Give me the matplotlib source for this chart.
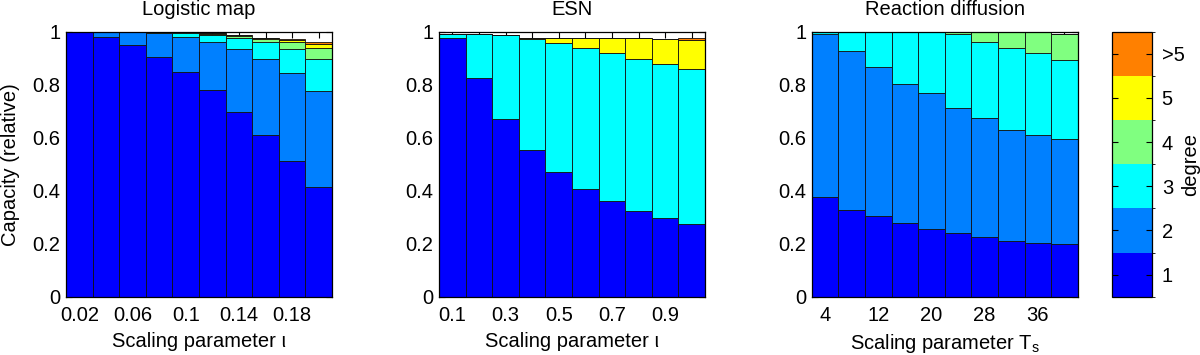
import matplotlib
matplotlib.use('Agg')
import matplotlib as mpl
import matplotlib.pyplot as plt
from matplotlib.colors import ListedColormap, BoundaryNorm
import numpy as np

plt.rcParams['font.family'] = ['Liberation Sans', 'DejaVu Sans']
plt.rcParams['font.size'] = 14.5

# ---------------- data ----------------
degree_labels = ['1', '2', '3', '4', '5', '>5']
degree_colors = ['#0000FF', '#0080FF', '#00FFFF', '#80FF80', '#FFFF00', '#FF8000']

# Logistic map
logistic_x = [0.02, 0.04, 0.06, 0.08, 0.10, 0.12, 0.14, 0.16, 0.18, 0.20]
logistic_ticklabels = ['0.02', '', '0.06', '', '0.1', '', '0.14', '', '0.18', '']
logistic_deg1 = [0.998, 0.979, 0.950, 0.904, 0.848, 0.780, 0.698, 0.609, 0.512, 0.413]
logistic_deg2 = [0.002, 0.020, 0.047, 0.090, 0.133, 0.183, 0.237, 0.287, 0.331, 0.362]
logistic_deg3 = [0.000, 0.000, 0.000, 0.001, 0.013, 0.025, 0.042, 0.064, 0.092, 0.122]
logistic_deg4 = [0.000, 0.000, 0.001, 0.002, 0.003, 0.004, 0.007, 0.012, 0.025, 0.043]
logistic_deg5 = [0.000, 0.001, 0.000, 0.001, 0.001, 0.002, 0.003, 0.004, 0.008, 0.013]
logistic_deg6 = [0.000, 0.000, 0.001, 0.000, 0.000, 0.001, 0.001, 0.002, 0.004, 0.009]

# ESN
esn_x = [0.1, 0.2, 0.3, 0.4, 0.5, 0.6, 0.7, 0.8, 0.9, 1.0]
esn_ticklabels = ['0.1', '', '0.3', '', '0.5', '', '0.7', '', '0.9', '']
esn_deg1 = [0.977, 0.826, 0.672, 0.555, 0.472, 0.406, 0.361, 0.325, 0.297, 0.273]
esn_deg2 = [0.000, 0.000, 0.000, 0.000, 0.000, 0.000, 0.000, 0.000, 0.000, 0.000]
esn_deg3 = [0.013, 0.165, 0.314, 0.416, 0.484, 0.531, 0.557, 0.573, 0.580, 0.586]
esn_deg4 = [0.000, 0.000, 0.000, 0.000, 0.000, 0.000, 0.000, 0.000, 0.000, 0.000]
esn_deg5 = [0.000, 0.000, 0.000, 0.004, 0.019, 0.038, 0.057, 0.077, 0.094, 0.110]
esn_deg6 = [0.000, 0.000, 0.000, 0.000, 0.000, 0.000, 0.000, 0.000, 0.002, 0.006]

# Reaction diffusion
rd_x = [4, 8, 12, 16, 20, 24, 28, 32, 36, 40]
rd_ticklabels = ['4', '', '12', '', '20', '', '28', '', '36', '']
rd_deg1 = [0.375, 0.327, 0.305, 0.278, 0.257, 0.242, 0.225, 0.211, 0.203, 0.199]
rd_deg2 = [0.615, 0.600, 0.562, 0.523, 0.512, 0.471, 0.448, 0.417, 0.407, 0.396]
rd_deg3 = [0.009, 0.071, 0.131, 0.197, 0.229, 0.278, 0.289, 0.309, 0.311, 0.298]
rd_deg4 = [0.000, 0.000, 0.000, 0.000, 0.000, 0.007, 0.036, 0.061, 0.077, 0.097]
rd_deg5 = [0.000, 0.000, 0.000, 0.000, 0.000, 0.000, 0.000, 0.000, 0.000, 0.000]
rd_deg6 = [0.000, 0.000, 0.000, 0.000, 0.000, 0.000, 0.000, 0.000, 0.000, 0.000]

y_ticks = [0, 0.2, 0.4, 0.6, 0.8, 1.0]
y_ticklabels = ['0', '0.2', '0.4', '0.6', '0.8', '1']

panels = [
    dict(title='Logistic map', x=logistic_x, ticklabels=logistic_ticklabels,
         segs=[logistic_deg1, logistic_deg2, logistic_deg3, logistic_deg4, logistic_deg5, logistic_deg6],
         xlabel='Scaling parameter \u03b9', left=66),
    dict(title='ESN', x=esn_x, ticklabels=esn_ticklabels,
         segs=[esn_deg1, esn_deg2, esn_deg3, esn_deg4, esn_deg5, esn_deg6],
         xlabel='Scaling parameter \u03b9', left=439),
    dict(title='Reaction diffusion', x=rd_x, ticklabels=rd_ticklabels,
         segs=[rd_deg1, rd_deg2, rd_deg3, rd_deg4, rd_deg5, rd_deg6],
         xlabel=r'Scaling parameter $\mathregular{T_s}$', left=811.7),
]

W, H = 1200, 355
fig = plt.figure(figsize=(W / 100, H / 100), dpi=100)

ax_bottom = 296.7
ax_top = 31.7
ax_w = 266

for i, p in enumerate(panels):
    ax = fig.add_axes([p['left'] / W, 1 - ax_bottom / H, ax_w / W, (ax_bottom - ax_top) / H])
    x = np.array(p['x'], dtype=float)
    dx = x[1] - x[0]
    bottom = np.zeros(len(x))
    for k, seg in enumerate(p['segs']):
        seg = np.array(seg)
        ax.bar(x, seg, width=dx, bottom=bottom, color=degree_colors[k],
               edgecolor='#101010', linewidth=0.6, align='center')
        bottom += seg
    ax.set_xlim(x[0] - dx / 2, x[-1] + dx / 2)
    ax.set_ylim(0, 1)
    ax.set_xticks(x)
    ax.set_xticklabels(p['ticklabels'])
    ax.set_yticks(y_ticks)
    ax.set_yticklabels(y_ticklabels)
    ax.set_axisbelow(True)
    ax.tick_params(direction='in', top=True, right=True, length=4, width=0.8)
    ax.tick_params(axis='x', pad=7)
    ax.tick_params(axis='y', pad=4)
    for s in ax.spines.values():
        s.set_linewidth(0.9)
    ax.set_title(p['title'], pad=12, fontsize=14.5)
    ax.set_xlabel(p['xlabel'], labelpad=5)
    if i == 0:
        ax.set_ylabel('Capacity (relative)', labelpad=9)

# colorbar
cax = fig.add_axes([1112 / W, 1 - ax_bottom / H, 40 / W, (ax_bottom - ax_top) / H])
cmap = ListedColormap(degree_colors)
norm = BoundaryNorm(np.arange(0.5, 7.0, 1.0), cmap.N)
cb = fig.colorbar(mpl.cm.ScalarMappable(norm=norm, cmap=cmap), cax=cax,
                  ticks=np.arange(1, 7))
cb.set_ticklabels(degree_labels)
cax.tick_params(direction='in', left=True, right=True, length=4, width=0.8, pad=7)
cb.outline.set_linewidth(0.9)
cb.set_label('degree')
cax.yaxis.set_label_coords(1.72, 0.5)

fig.savefig('out.png', dpi=100)
